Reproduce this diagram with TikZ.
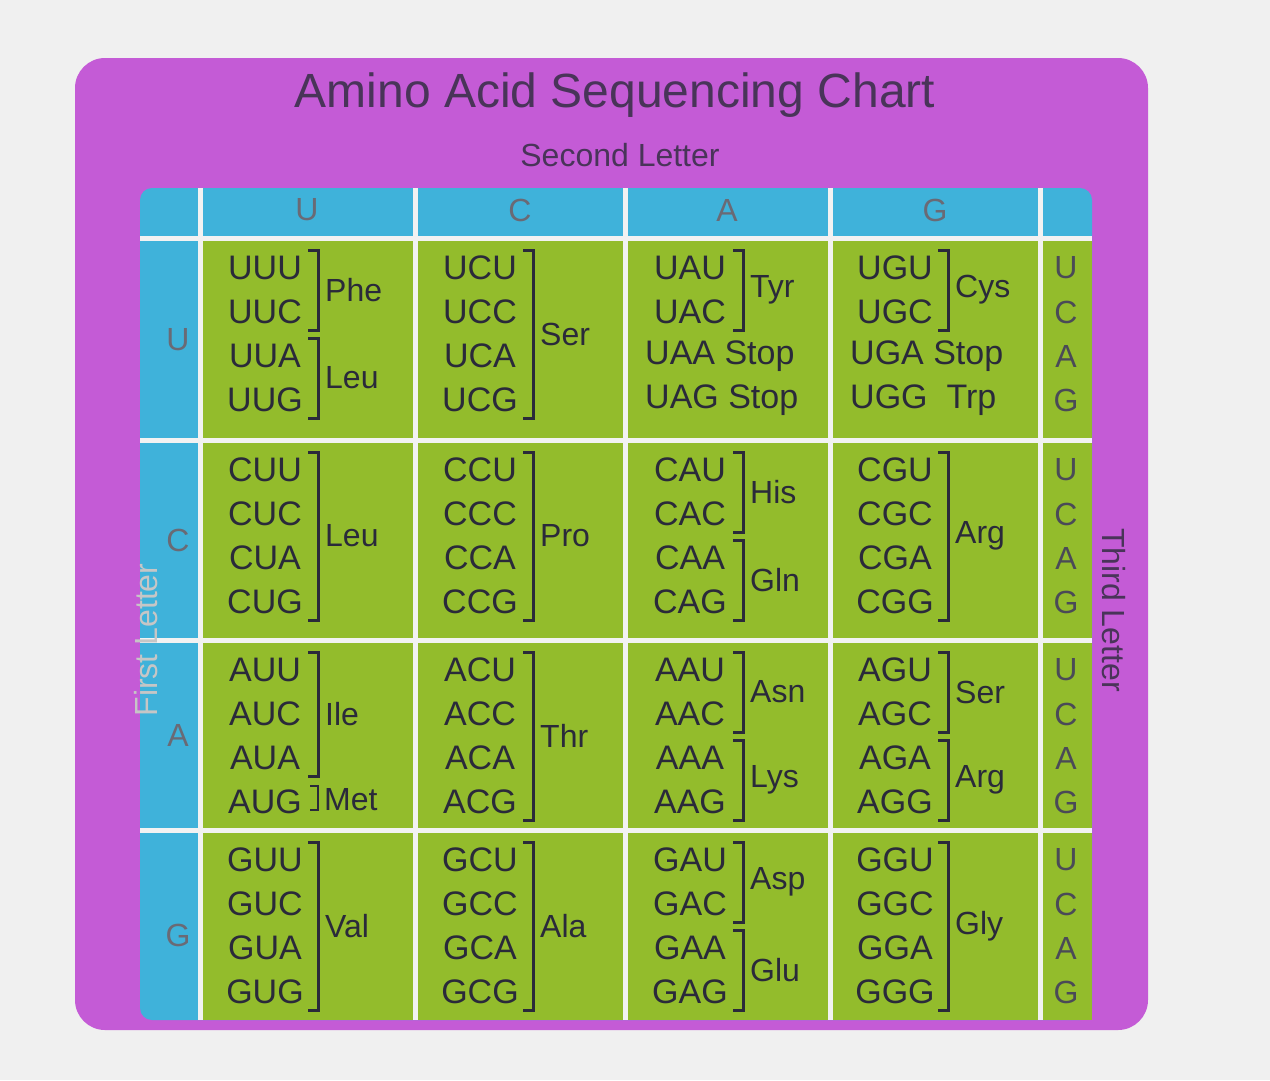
\documentclass[tikz,border=0pt]{standalone}
\usepackage{fontspec}
\setmainfont{Liberation Sans}
\definecolor{mag}{HTML}{C45BD6}
\definecolor{blu}{HTML}{3FB2DA}
\definecolor{grn}{HTML}{93BC2C}
\definecolor{ink}{HTML}{2A2A3A}
\newcommand\brk[5]{\pgfmathsetmacro\bx{#1+118}\pgfmathsetmacro\ya{#2+30+44*#3-18}\pgfmathsetmacro\yb{#2+30+44*#4+18}\pgfmathsetmacro\ym{(\ya+\yb)/2}%
\draw[brk] (\bx-10,\ya)--(\bx,\ya)--(\bx,\yb)--(\bx-10,\yb);\node[nm,anchor=west] at (\bx+7,\ym) {#5};}
\newcommand\cods[6]{\foreach \t [count=\i from 0] in {#3,#4,#5,#6}{\node[cod] (c\i-#1-#2) at (#1+65,#2+30+44*\i) {\t};}}
\begin{document}
\begin{tikzpicture}[x=1pt,y=-1pt,
 cod/.style={font=\fontsize{34}{36}\selectfont,text=ink,inner sep=0},
 nm/.style={font=\fontsize{32}{36}\selectfont,text=ink,inner sep=0},
 brk/.style={draw=ink,line width=3pt},
 grid/.style={draw=white!90!gray,line width=5pt}]
\useasboundingbox (0,0) rectangle (1270,1080);
\fill[gray!12] (0,0) rectangle (1270,1080);
\fill[mag,rounded corners=30pt] (75,58) rectangle (1148,1030);
\node[font=\fontsize{48}{50}\selectfont,text=ink!80!mag] (title) at (615,95) {Amino Acid Sequencing Chart};
\node[font=\fontsize{32}{34}\selectfont,text=ink!80!mag] (second) at (620,155) {Second Letter};
\fill[blu,rounded corners=12pt] (140,188) rectangle (1092,1020);
\fill[grn] (200,238) rectangle (1040,1020);
\fill[grn] (1040,238) rectangle (1092,1020);
\foreach \x in {200,415,625,830,1040}{\draw[grid] (\x,188)--(\x,1020);}
\foreach \y in {238,440,640,830}{\draw[grid] (140,\y)--(1092,\y);}
\foreach \l/\x in {U/307,C/520,A/727,G/935}{\node[nm,text=ink!70] (h\l) at (\x,210) {\l};}
\foreach \l/\y in {U/340,C/540,A/735,G/935}{\node[nm,text=ink!70] (f\l) at (178,\y) {\l};}
\node[nm,text=gray!45,rotate=90] (first) at (146,640) {First Letter};
\node[nm,text=ink!80!mag,rotate=-90] (third) at (1114,610) {Third Letter};
\foreach \y in {238,440,640,830}{\foreach \l [count=\i from 0] in {U,C,A,G}{\node[nm,text=ink!85] at (1066,\y+30+44*\i) {\l};}}
% U row
\cods{200}{238}{UUU}{UUC}{UUA}{UUG}\brk{200}{238}{0}{1}{Phe}\brk{200}{238}{2}{3}{Leu}
\cods{415}{238}{UCU}{UCC}{UCA}{UCG}\brk{415}{238}{0}{3}{Ser}
\node[cod] at (690,268) {UAU};\node[cod] at (690,312) {UAC};\brk{625}{238}{0}{1}{Tyr}
\node[cod,anchor=west] at (645,356) {UAA Stop};\node[cod,anchor=west] at (645,400) {UAG Stop};
\node[cod] at (895,268) {UGU};\node[cod] at (895,312) {UGC};\brk{830}{238}{0}{1}{Cys}
\node[cod,anchor=west] at (850,356) {UGA Stop};\node[cod,anchor=west] at (850,400) {UGG\ \ Trp};
% C row
\cods{200}{440}{CUU}{CUC}{CUA}{CUG}\brk{200}{440}{0}{3}{Leu}
\cods{415}{440}{CCU}{CCC}{CCA}{CCG}\brk{415}{440}{0}{3}{Pro}
\cods{625}{440}{CAU}{CAC}{CAA}{CAG}\brk{625}{440}{0}{1}{His}\brk{625}{440}{2}{3}{Gln}
\cods{830}{440}{CGU}{CGC}{CGA}{CGG}\brk{830}{440}{0}{3}{Arg}
% A row
\cods{200}{640}{AUU}{AUC}{AUA}{AUG}\brk{200}{640}{0}{2}{Ile}
\draw[brk,line width=1.5pt] (310,786)--(318,786)--(318,810)--(310,810);\node[nm,anchor=west] at (324,800) {Met};
\cods{415}{640}{ACU}{ACC}{ACA}{ACG}\brk{415}{640}{0}{3}{Thr}
\cods{625}{640}{AAU}{AAC}{AAA}{AAG}\brk{625}{640}{0}{1}{Asn}\brk{625}{640}{2}{3}{Lys}
\cods{830}{640}{AGU}{AGC}{AGA}{AGG}\brk{830}{640}{0}{1}{Ser}\brk{830}{640}{2}{3}{Arg}
% G row
\cods{200}{830}{GUU}{GUC}{GUA}{GUG}\brk{200}{830}{0}{3}{Val}
\cods{415}{830}{GCU}{GCC}{GCA}{GCG}\brk{415}{830}{0}{3}{Ala}
\cods{625}{830}{GAU}{GAC}{GAA}{GAG}\brk{625}{830}{0}{1}{Asp}\brk{625}{830}{2}{3}{Glu}
\cods{830}{830}{GGU}{GGC}{GGA}{GGG}\brk{830}{830}{0}{3}{Gly}
\end{tikzpicture}
\end{document}
